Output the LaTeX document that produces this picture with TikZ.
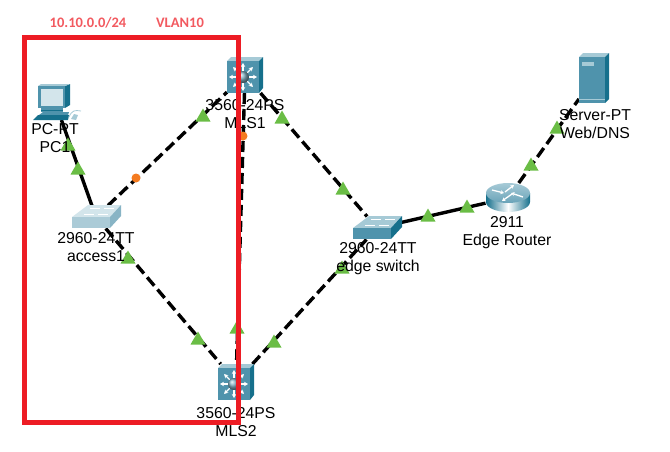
\documentclass[tikz,border=0pt]{standalone}
\usepackage{fontspec}
\setmainfont{Liberation Sans}
\newfontfamily\notefont{Carlito}
\usetikzlibrary{backgrounds,arrows.meta}
\definecolor{cisco}{HTML}{4F93AC}
\definecolor{ciscotop}{HTML}{A6CAD6}
\definecolor{ciscodark}{HTML}{16708C}
\definecolor{paleface}{HTML}{ABCBD7}
\definecolor{paletop}{HTML}{D3E5EB}
\definecolor{paleside}{HTML}{88B4C5}
\definecolor{boxred}{HTML}{ED1C24}
\definecolor{notered}{HTML}{F25A60}
\definecolor{upgreen}{HTML}{6ABD45}
\definecolor{waitorange}{HTML}{F47B20}
\tikzset{
    device/.style={rectangle,inner sep=0pt,outer sep=0pt},
    lbl/.style={align=center,inner sep=0pt,font=\fontsize{15.8}{18}\selectfont},
    note/.style={inner sep=0pt,text=notered,font=\notefont\bfseries\fontsize{14.5}{16}\selectfont},
    link/.style={line width=3.4pt,black},
    dlink/.style={link,dash pattern=on 11pt off 5pt},
    pics/mlsicon/.style={code={
        \fill[ciscotop] (-18,-14) -- (-14,-18) -- (18,-18) -- (14,-14) -- cycle;
        \fill[ciscodark] (14,-14) -- (18,-18) -- (18,13) -- (14,18) -- cycle;
        \fill[cisco] (-18,-14) rectangle (14,18);
        \foreach \a in {0,45,...,315}
            \draw[white,line width=1.3pt,-{Stealth[length=4pt,width=4.5pt]},shift={(-2,2)}] (\a:6) -- (\a:14);
        \shade[ball color=cisco!70!white] (-2,2) circle (6);
    }},
    pics/swicon/.style n args={3}{code={
        \fill[#2] (-24,0) -- (-8,-12) -- (25,-12) -- (14,0) -- cycle;
        \fill[#3] (14,0) -- (25,-12) -- (25,-1) -- (14,11) -- cycle;
        \fill[#1] (-24,0) rectangle (14,11);
        \draw[white,line width=0.7pt] (-12,-3) -- (-2,-3) (-6,-9) -- (4,-9) (2,-3) -- (12,-3) (8,-9) -- (18,-9);
    }},
    pics/routericon/.style={code={
        \shade[left color=ciscodark,right color=ciscodark,middle color=white]
            (-22,-5) -- (-22,4) arc[start angle=180,end angle=0,x radius=22,y radius=10]
            -- (22,-5) -- cycle;
        \shade[top color=ciscotop,bottom color=cisco!85] (0,-5) ellipse (22 and 10);
        \draw[white,line width=1.3pt,-{Stealth[length=3.5pt,width=4pt]}] (-16,-8) -- (-4,-5);
        \draw[white,line width=1.3pt,-{Stealth[length=3.5pt,width=4pt]}] (15,-1) -- (3,-5);
        \draw[white,line width=1.3pt,-{Stealth[length=3.5pt,width=4pt]}] (-3,-6) -- (6,-13);
        \draw[white,line width=1.3pt,-{Stealth[length=3.5pt,width=4pt]}] (4,-4) -- (-6,3);
    }},
    pics/pcicon/.style={code={
        \fill[ciscodark] (10,-16) -- (15,-18) -- (15,3) -- (10,6) -- cycle;
        \fill[ciscotop] (-17,-16) -- (-14,-18) -- (15,-18) -- (10,-16) -- cycle;
        \fill[cisco] (-17,-16) rectangle (10,6);
        \fill[paletop] (-14.5,-13.5) rectangle (7.5,3.5);
        \fill[cisco] (-14,6) rectangle (8,10);
        \fill[ciscodark] (-14,8) -- (8,8) -- (8,9) -- (-14,9) -- cycle;
        \fill[cisco] (-16,13) -- (-12,10) -- (14,10) -- (13,13) -- cycle;
        \fill[ciscodark] (-22,18) -- (-17,13) -- (14,13) -- (13,18) -- cycle;
        \draw[ciscotop,line width=0.8pt] (14,15) .. controls (17,8) and (20,8) .. (26,9);
        \fill[ciscotop] (16,17) -- (19,12) -- (23,13) -- (21,18) -- cycle;
    }},
    pics/servericon/.style={code={
        \fill[ciscotop] (-15,-21) -- (-11,-25) -- (15,-25) -- (11,-21) -- cycle;
        \fill[ciscodark] (11,-21) -- (15,-25) -- (15,21) -- (11,25) -- cycle;
        \fill[cisco] (-15,-21) rectangle (11,25);
        \fill[ciscotop] (-12,-16) rectangle (0,-12);
        \fill[ciscotop] (-15,21) rectangle (11,22);
    }},
}
\begin{document}
\begin{tikzpicture}[x=1pt,y=-1pt]
\useasboundingbox (0,0) rectangle (670,451);

% devices
\node[device,minimum width=44pt,minimum height=36pt] (pc) at (55,102) {};
\node[device,minimum width=49pt,minimum height=23pt] (access) at (96,217) {};
\node[device,minimum size=36pt] (mlsa) at (245,75) {};
\node[device,minimum size=36pt] (mlsb) at (236,382) {};
\node[device,minimum width=49pt,minimum height=23pt] (edge) at (377,228) {};
\node[device,minimum width=45pt,minimum height=30pt] (router) at (508,198) {};
\node[device,minimum width=30pt,minimum height=50pt] (server) at (594,78) {};

\pic at (pc) {pcicon};
\pic at (access) {swicon={paleface}{paletop}{paleside}};
\pic at (mlsa) {mlsicon};
\pic at (mlsb) {mlsicon};
\pic at (edge) {swicon={cisco}{ciscotop}{ciscodark}};
\pic at (router) {routericon};
\pic at (server) {servericon};

% links
\begin{scope}[on background layer]
\draw[link] (pc) -- (access);
\draw[dlink] (access) -- (mlsa);
\draw[dlink] (access) -- (mlsb);
\draw[dlink] (mlsa) -- (mlsb);
\draw[dlink] (mlsa) -- (edge);
\draw[dlink] (mlsb) -- (edge);
\draw[link] (edge) -- (router);
\draw[dlink] (router) -- (server);
\end{scope}

% link lights
\foreach \x/\y in {68/144,78/168,203/115,237/327,282/117,343/188,428/215,467/206,531/164,557/127,128/257,198/338,274/341,342/267}
    \fill[upgreen] (\x-7.5,\y+6.5) -- (\x,\y-6.5) -- (\x+7.5,\y+6.5) -- cycle;
\foreach \x/\y in {136/178,243/136}
    \fill[waitorange] (\x,\y) circle (4.5);

% labels
\node[lbl] (pctxt) at (55,138) {PC-PT\\PC1};
\node[lbl] (accesstxt) at (96,247) {2960-24TT\\access1};
\node[lbl] (mlsatxt) at (245,114) {3560-24PS\\MLS1};
\node[lbl] (mlsbtxt) at (236,422) {3560-24PS\\MLS2};
\node[lbl] (edgetxt) at (378,259) {2960-24TT\\edge switch};
\node[lbl] (routertxt) at (507,233) {2911\\Edge Router};
\node[lbl] (servertxt) at (595,124) {Server-PT\\Web/DNS};

% vlan box
\draw[boxred,line width=5pt] (24.5,37.5) rectangle (238.5,422.5);
\node[note] (subnet) at (88,23) {10.10.0.0/24};
\node[note] (vlan) at (180,23) {VLAN10};
\end{tikzpicture}
\end{document}
